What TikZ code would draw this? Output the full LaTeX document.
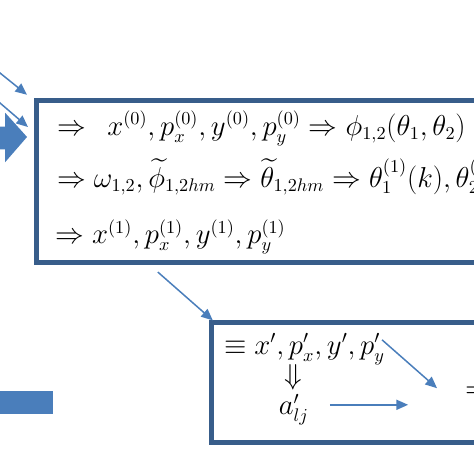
\documentclass[tikz,border=0pt]{standalone}
\usepackage{amsmath}
\usetikzlibrary{arrows.meta}
\definecolor{boxblue}{RGB}{56,93,138}
\definecolor{arrowblue}{RGB}{74,126,187}
\tikzset{
  boxline/.style={draw=boxblue, line width=3pt},
  thinarrow/.style={draw=arrowblue, line width=0.9pt, -{Triangle[length=7pt,width=6pt]}},
  mathrow/.style={anchor=base west, inner sep=0pt, font=\fontsize{16.2}{19}\selectfont},
  mathsym/.style={inner sep=0pt, font=\fontsize{16.2}{19}\selectfont},
}
\begin{document}
\begin{tikzpicture}
    \useasboundingbox (0,0) rectangle (10,10);
    \clip (0,0) rectangle (10,10);

    % upper box
    \draw [boxline] (0.76,4.47) rectangle (10.6,7.87);
    \node [mathrow, name=r1] at (1.2,7.15) {$\Rightarrow\hspace{8pt} x^{(0)},p_x^{(0)},y^{(0)},p_y^{(0)}\Rightarrow\phi_{1,2}(\theta_1,\theta_2)\Rightarrow$};
    \node [mathrow, name=r2] at (1.2,6.05) {$\Rightarrow\omega_{1,2},\widetilde{\phi}_{1,2hm}\Rightarrow\widetilde{\theta}_{1,2hm}\Rightarrow\theta_1^{(1)}(k),\theta_2^{(1)}(k)$};
    \node [mathrow, name=r3] at (1.16,4.86) {$\Rightarrow x^{(1)},p_x^{(1)},y^{(1)},p_y^{(1)}$};

    % incoming arrows on the left
    \coordinate (in1) at (-0.05,8.5);
    \coordinate (in1e) at (0.57,8.0);
    \coordinate (in2) at (-0.05,7.87);
    \coordinate (in2e) at (0.59,7.32);
    \draw [thinarrow] (in1) -- (in1e);
    \draw [thinarrow] (in2) -- (in2e);
    \fill [arrowblue] (-0.3,7.33) -- (0.11,7.33) -- (0.11,7.62) -- (0.57,7.11)
        -- (0.11,6.58) -- (0.11,6.85) -- (-0.3,6.85) -- cycle;

    % lower box
    \draw [boxline] (4.46,0.67) rectangle (10.6,3.2);
    \node [mathrow, name=b1] at (4.72,2.53) {$\equiv x',p'_x,y',p'_y$};
    \node [mathsym, name=b2] at (6.18,2.03) {$\Downarrow$};
    \node [mathsym, name=b3] at (6.2,1.36) {$a'_{lj}$};
    \node [mathrow, name=b4] at (9.81,1.62) {$\Rightarrow$};
    \coordinate (b3s) at (6.96,1.46);
    \coordinate (b3e) at (8.61,1.46);
    \coordinate (b1s) at (8.06,2.83);
    \coordinate (b1e) at (9.22,1.81);
    \draw [thinarrow] (b3s) -- (b3e);
    \draw [thinarrow] (b1s) -- (b1e);

    % from upper box to lower box
    \coordinate (u1) at (3.33,4.26);
    \coordinate (u2) at (4.49,3.24);
    \draw [thinarrow] (u1) -- (u2);

    % filled bar lower left
    \fill [arrowblue] (-0.2,1.27) rectangle (1.12,1.76);
\end{tikzpicture}
\end{document}
